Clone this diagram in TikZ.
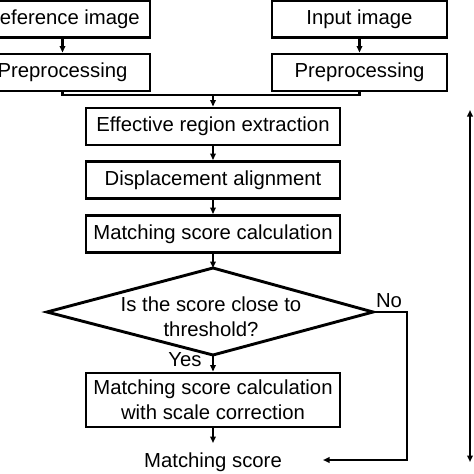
\documentclass[tikz,border=0pt]{standalone}
\usepackage{fontspec}
\setmainfont{Liberation Sans}
\usetikzlibrary{arrows.meta}
\begin{document}
\begin{tikzpicture}[x=1pt,y=-1pt,
  box/.style={draw,line width=2.9pt,minimum height=37pt,inner sep=0pt,font=\fontsize{20.3}{24}\selectfont},
  wide/.style={box,minimum width=254pt},
  side/.style={box,minimum width=175pt},
  conn/.style={line width=2.2pt,-{Triangle[length=6.5pt,width=5.5pt]}},
  line/.style={line width=2.2pt},
  lbl/.style={font=\fontsize{20.3}{24}\selectfont,inner sep=0pt}]
\useasboundingbox (0,0) rectangle (474,474);
\begin{scope}
\clip (0,0) rectangle (474,474);
\node[side] (ref) at (62.5,19) {Reference image};
\node[side] (inp) at (359.5,19) {Input image};
\node[side] (pre1) at (62.5,72.5) {Preprocessing};
\node[side] (pre2) at (359.5,72.5) {Preprocessing};
\end{scope}
\node[wide] (eff) at (213,126.5) {Effective region extraction};
\node[wide] (disp) at (213,180) {Displacement alignment};
\node[wide] (match) at (213,234) {Matching score calculation};
\coordinate (dt) at (213,268);
\coordinate (dl) at (47,312);
\coordinate (dr) at (373,312);
\coordinate (db) at (213,355);
\draw[line width=2.9pt,line join=miter] (dt) -- (dr) -- (db) -- (dl) -- cycle;
\node[lbl,align=center,font=\fontsize{20.3}{25}\selectfont] (dia) at (211,317) {Is the score close to\\threshold?};
\node[wide,minimum height=54pt,align=center,font=\fontsize{20.3}{25}\selectfont] (corr) at (213,400) {Matching score calculation\\with scale correction};
\node[lbl] (score) at (213,462) {Matching score};
\node[lbl] (yes) at (185,360) {Yes};
\node[lbl] (no) at (389,301) {No};
\coordinate (j) at (213,95);
\coordinate (ne) at (407,312);
\coordinate (scin) at (323,460);
\coordinate (rt) at (470,110);
\coordinate (rb) at (470,462);
\draw[conn] (ref) -- (pre1);
\draw[conn] (inp) -- (pre2);
\draw[line] (pre1.south) |- (j);
\draw[line] (pre2.south) |- (j);
\draw[conn] (j) -- (eff.north);
\draw[conn] (eff) -- (disp);
\draw[conn] (disp) -- (match);
\draw[conn] (match.south) -- (dt);
\draw[conn] (db) -- (corr.north);
\draw[conn] (corr.south) -- (213,443);
\draw[conn] (dr) -- (ne) |- (scin);
\draw[line width=2.4pt,{Triangle[length=6.5pt,width=5.5pt]}-{Triangle[length=6.5pt,width=5.5pt]}] (rt) -- (rb);
\end{tikzpicture}
\end{document}
